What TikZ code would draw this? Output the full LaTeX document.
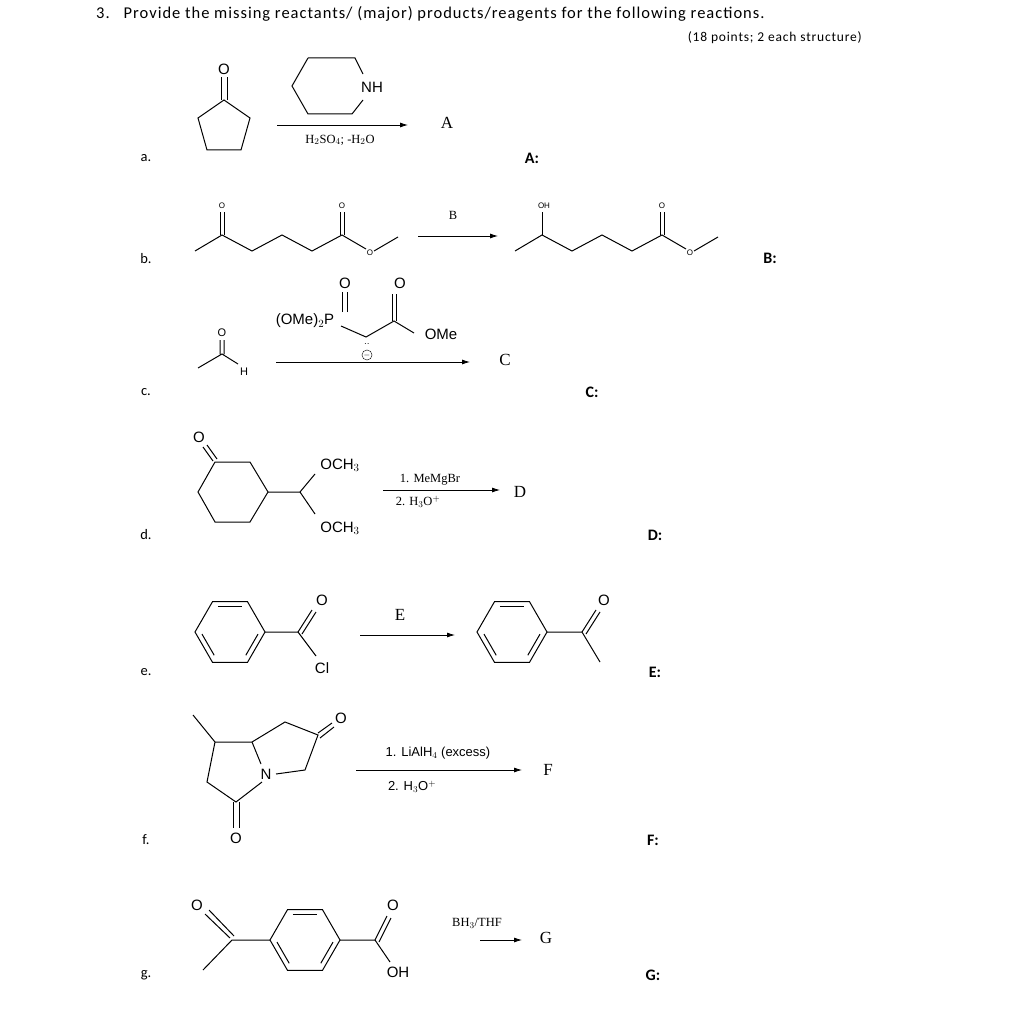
\documentclass[tikz,border=0pt]{standalone}
\usepackage{fontspec}
\setmainfont{Carlito}
\newfontfamily\ser{Liberation Serif}
\newfontfamily\ar{Liberation Sans}
\newfontfamily\hdfont[LetterSpace=6]{Carlito}
\newcommand\myring[2]{\draw[bond] (0:#1) \foreach \a in {60,120,...,300} {-- (\a:#1)} -- cycle;}
\newcommand\mybenz[1]{\myring{#1}{}\foreach \a in {0,120,240}{\draw[bond] ($(\a:#1)!0.15!(\a+60:#1)+(\a+30:-5)$) -- ($(\a:#1)!0.85!(\a+60:#1)+(\a+30:-5)$);}}
\usetikzlibrary{calc,arrows.meta}
\begin{document}
\begin{tikzpicture}[x=1pt,y=-1pt,
  bond/.style={line width=1pt},
  arr/.style={line width=0.8pt,-{Latex[length=8pt,width=5pt]}},
  atm/.style={font=\ar\fontsize{15}{15}\selectfont,inner sep=1pt},
  sat/.style={font=\ar\fontsize{8}{8}\selectfont,inner sep=1pt},
  let/.style={font=\ser\fontsize{17}{17}\selectfont},
  rg/.style={font=\ser\fontsize{12.5}{12.5}\selectfont},
  lab/.style={font=\fontsize{14.5}{14.5}\selectfont},
  ans/.style={font=\bfseries\fontsize{16}{16}\selectfont}]
\useasboundingbox[fill=white] (0,0) rectangle (1014,1024);
\node[anchor=west,inner sep=0,font=\hdfont\fontsize{16.5}{16.5}\selectfont] (hd) at (96,14) {3.\hspace{14pt}Provide the missing reactants/ (major) products/reagents for the following reactions.};
\node[anchor=east,inner sep=0,font=\hdfont\fontsize{13.5}{13.5}\selectfont] (pts) at (862,38) {(18 points; 2 each structure)};
% a
\node[lab] (la) at (146,158) {a.};
\draw[bond] (224,100)--(250,118)--(241,150)--(207,150)--(198,118)--cycle;
\draw[bond] (221,100)--(221,77) (227,100)--(227,77);
\node[atm] (oa) at (224,69) {O};
\draw[bond] (308,58)--(355,58)--(363,74) (363,100)--(352,114)--(308,114)--(292,86)--(308,58);
\node[atm] (nh) at (372,87) {NH};
\draw[arr] (277,125) -- (408,125);
\node[rg] (ra) at (340,140) {H$_2$SO$_4$; -H$_2$O};
\node[let] (A) at (447,123) {A};
\node[ans] (aa) at (532,158) {A:};
% b
\node[lab] (lb) at (146,259) {b.};
\draw[bond] (195,251)--(222,235)--(252,251)--(282,235)--(312,251)--(342,235)--(366,249) (374,251)--(398,237);
\draw[bond] (220,235)--(220,212) (224,235)--(224,212) (340,235)--(340,212) (344,235)--(344,212);
\node[sat] (o1) at (222,206) {O}; \node[sat] (o2) at (342,206) {O}; \node[sat] (o3) at (370,253) {O};
\draw[arr] (418,236) -- (498,236);
\node[rg] (B) at (453,215) {B};
\draw[bond] (515,251)--(542,235)--(572,251)--(602,235)--(632,251)--(662,235)--(686,249) (694,251)--(718,237);
\draw[bond] (542,235)--(542,212) (660,235)--(660,212) (664,235)--(664,212);
\node[sat] (oh1) at (544,206) {OH}; \node[sat] (o4) at (662,206) {O}; \node[sat] (o5) at (690,253) {O};
\node[ans] (bb) at (770,258) {B:};
% c
\node[lab] (lc) at (146,392) {c.};
\draw[bond] (198,368)--(222,354)--(238,364) (220,354)--(220,340) (224,354)--(224,340);
\node[sat,font=\ar\fontsize{11}{11}\selectfont] (oc) at (222,333) {O};
\node[sat,font=\ar\fontsize{11}{11}\selectfont] (hc) at (244,372) {H};
\node[atm] (pm) at (305,321) {(OMe)$_2$P};
\draw[bond] (341,326)--(366,337)--(394,321)--(414,333);
\draw[bond] (342,312)--(342,292) (347,312)--(347,292) (392,321)--(392,294) (396,321)--(396,294);
\node[atm] (op) at (345,283) {O}; \node[atm] (oc2) at (400,283) {O};
\node[atm] (ome) at (441,334) {OMe};
\node[font=\ar\fontsize{10}{10}\selectfont] (lp) at (367,344) {$\cdot\cdot$};
\node[draw,circle,inner sep=0.5pt,font=\fontsize{8}{8}\selectfont] (mn) at (367,355) {$-$};
\draw[arr] (276,362) -- (470,362);
\node[let] (C) at (505,360) {C};
\node[ans] (cc) at (592,392) {C:};
% d
\node[lab] (ld) at (146,535) {d.};
\draw[bond] (215,462)--(250,462)--(268,492)--(250,522)--(215,522)--(198,492)--cycle;
\draw[bond] (213,461)--(203,447) (217,459)--(207,445);
\node[atm] (od) at (199,437) {O};
\draw[bond] (268,492)--(300,492)--(315,474) (300,492)--(315,514);
\node[atm] (m1) at (340,465) {OCH$_3$}; \node[atm] (m2) at (340,528) {OCH$_3$};
\draw[arr] (383,490) -- (500,490);
\node[rg] (r1) at (430,480) {1. MeMgBr}; \node[rg] (r2) at (418,502) {2. H$_3$O$^+$};
\node[let] (D) at (520,492) {D};
\node[ans] (dd) at (655,535) {D:};
% e
\node[lab] (le) at (146,672) {e.};
\begin{scope}[shift={(230,632)}]\mybenz{35}\end{scope}
\draw[bond] (265,632)--(298,632)--(312,610) (302,634)--(316,612) (298,632)--(316,656);
\node[atm] (oe) at (322,600) {O}; \node[atm] (cl) at (322,668) {Cl};
\draw[arr] (360,635) -- (455,635);
\node[let] (E) at (400,615) {E};
\begin{scope}[shift={(512,632)}]\mybenz{35}\end{scope}
\draw[bond] (547,632)--(582,632)--(596,610) (586,634)--(600,612) (582,632)--(600,662);
\node[atm] (oe2) at (604,600) {O};
\node[ans] (ee) at (655,672) {E:};
% f
\node[lab] (lf) at (146,840) {f.};
\draw[bond] (193,715)--(215,742)--(252,742)--(261,764) (262,782)--(236,802)--(207,782)--(215,742);
\draw[bond] (252,742)--(285,722)--(318,735)--(305,770)--(276,774);
\node[atm] (nf) at (266,774) {N};
\draw[bond] (233,802)--(233,828) (239,802)--(239,828);
\node[atm] (of) at (236,838) {O};
\draw[bond] (318,733)--(332,723) (320,738)--(334,727);
\node[atm] (of2) at (341,718) {O};
\draw[arr] (356,770) -- (522,770);
\node[atm,font=\ar\fontsize{13}{13}\selectfont] (r3) at (438,753) {1. LiAlH$_4$ (excess)};
\node[atm,font=\ar\fontsize{13}{13}\selectfont] (r4) at (412,787) {2. H$_3$O$^+$};
\node[let] (F) at (548,770) {F};
\node[ans] (ff) at (653,840) {F:};
% g
\node[lab] (lg) at (146,975) {g.};
\begin{scope}[shift={(305,940)}]\mybenz{35}\end{scope}
\draw[bond] (270,940)--(232,940)--(203,970) (230,938)--(205,914) (234,936)--(209,910);
\node[atm] (og) at (197,905) {O};
\draw[bond] (340,940)--(375,940)--(387,916) (379,942)--(391,918) (375,940)--(390,962);
\node[atm] (og2) at (393,905) {O}; \node[atm] (ohg) at (398,972) {OH};
\draw[arr] (480,940) -- (522,940);
\node[rg] (r5) at (477,923) {BH$_3$/THF};
\node[let] (G) at (546,938) {G};
\node[ans] (gg) at (653,975) {G:};
\end{tikzpicture}
\end{document}
